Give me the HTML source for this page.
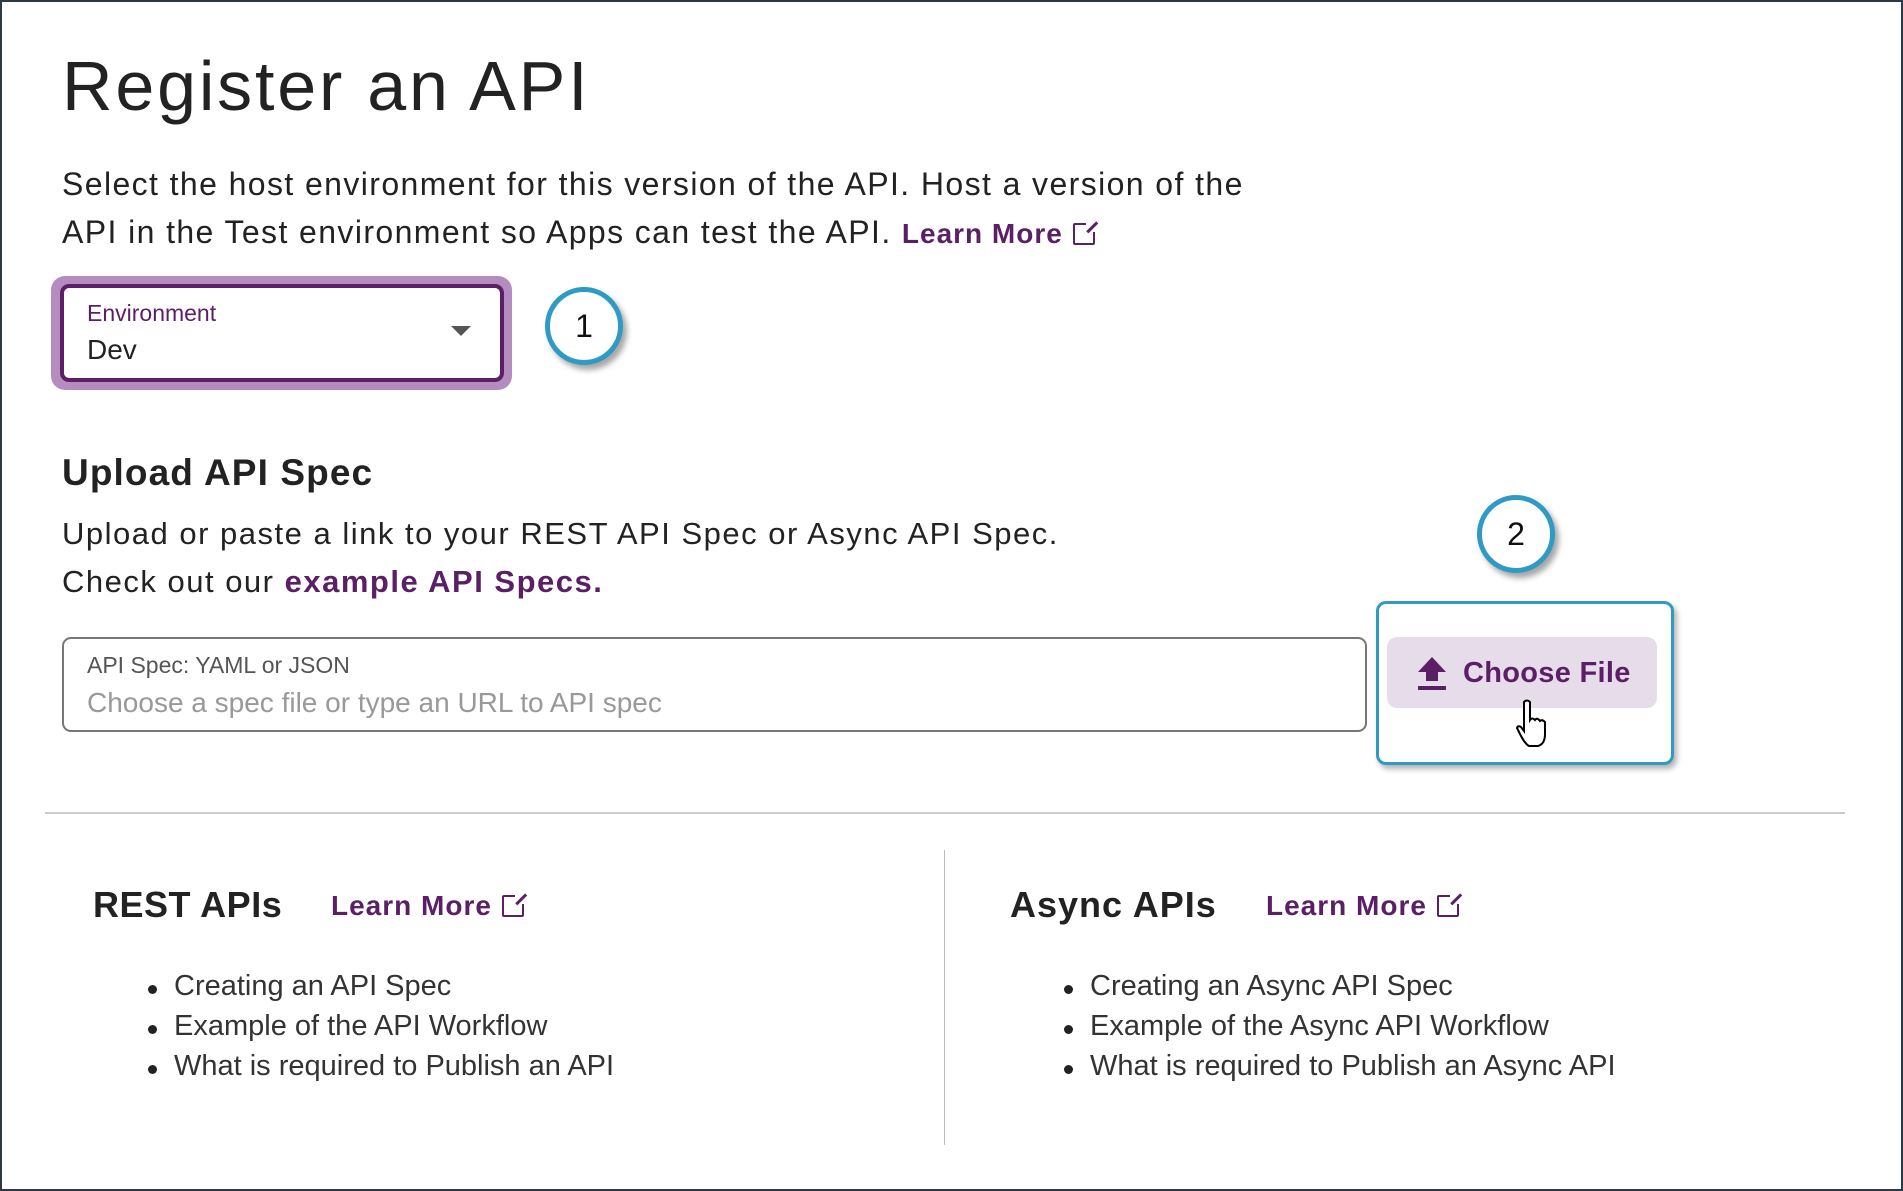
<!DOCTYPE html>
<html><head><meta charset="utf-8"><style>
*{margin:0;padding:0;box-sizing:border-box}
body{width:1903px;height:1191px;background:#fff;font-family:"Liberation Sans",sans-serif;color:#222;position:relative;overflow:hidden}
.frame{position:absolute;left:0;top:0;width:1903px;height:1191px;border:2px solid #2b3a44}
.a{position:absolute;white-space:nowrap}
.p{color:#5b1f66;font-weight:bold}
.circ{position:absolute;width:78px;height:78px;border:5px solid #2f9bc4;border-radius:50%;background:#fff;box-shadow:4px 5px 6px rgba(0,0,0,.35);font-size:32px;text-align:center;line-height:68px;color:#111}
.ext{display:inline-block;width:22px;height:22px;border:2.5px solid #5b1f66;border-radius:2px;position:relative;margin-left:10px;vertical-align:-2px}
.ext:after{content:"";position:absolute;right:-5px;top:-5px;width:12px;height:12px;background:#fff}
.ext i{position:absolute;right:-4px;top:-4px;width:14px;height:2.5px;background:#5b1f66;transform:rotate(-45deg);transform-origin:right center;z-index:2}
ul{position:absolute;list-style:none;font-size:29px;color:#333}
ul li{height:40px;position:relative;padding-left:26px}
ul li:before{content:"";position:absolute;left:0;top:15px;width:9px;height:9px;border-radius:50%;background:#222}
</style></head><body>
<div class="frame"></div>
<div class="a" style="left:62px;top:46px;font-size:70px;color:#222;letter-spacing:2.8px">Register an API</div>
<div class="a" style="left:62px;top:160px;font-size:32px;line-height:48px;color:#222;letter-spacing:1.4px">Select the host environment for this version of the API. Host a version of the<br>API in the Test environment so Apps can test the API. <span class="p" style="font-size:28px;letter-spacing:1px">Learn More</span><span class="ext"><i></i></span></div>
<div class="a" style="left:51px;top:276px;width:461px;height:114px;border-radius:14px;background:#b48cc0"></div>
<div class="a" style="left:60px;top:284px;width:444px;height:98px;border-radius:9px;border:4px solid #5b1f66;background:#fff"></div>
<div class="a" style="left:87px;top:300px;font-size:23px;color:#5b1f66">Environment</div>
<div class="a" style="left:87px;top:334px;font-size:28px;color:#222">Dev</div>
<div class="a" style="left:451px;top:326px;width:0;height:0;border-left:10px solid transparent;border-right:10px solid transparent;border-top:10px solid #555"></div>
<div class="circ" style="left:545px;top:287px">1</div>
<div class="a" style="left:62px;top:452px;font-size:37px;font-weight:bold;color:#222;letter-spacing:1.1px">Upload API Spec</div>
<div class="a" style="left:62px;top:510px;font-size:31px;line-height:48px;color:#222;letter-spacing:1.5px">Upload or paste a link to your REST API Spec or Async API Spec.<br>Check out our <span class="p">example API Specs.</span></div>
<div class="circ" style="left:1477px;top:495px">2</div>
<div class="a" style="left:62px;top:637px;width:1305px;height:95px;border:2px solid #777;border-radius:9px"></div>
<div class="a" style="left:87px;top:652px;font-size:23px;color:#555">API Spec: YAML or JSON</div>
<div class="a" style="left:87px;top:687px;font-size:28px;color:#999">Choose a spec file or type an URL to API spec</div>
<div class="a" style="left:1376px;top:601px;width:298px;height:164px;border:3px solid #2f9bc4;border-radius:10px;box-shadow:3px 4px 6px rgba(0,0,0,.3);background:#fff"></div>
<div class="a" style="left:1387px;top:637px;width:270px;height:71px;border-radius:10px;background:#e7dcea"></div>
<svg class="a" style="left:1417px;top:655px" width="30" height="36"><polygon points="15,2 29,17 21,17 21,26 9,26 9,17 1,17" fill="#5b1f66"/><rect x="1" y="31" width="28" height="4" fill="#5b1f66"/></svg>
<div class="a p" style="left:1463px;top:657px;font-size:29px;letter-spacing:0.3px">Choose File</div>
<svg class="a" style="left:1516px;top:698px" width="34" height="52"><path d="M8 4 q3-3 6 0 v18 q2-3 5 0 q2-3 5 1 q2-2 5 1 v12 q0 10-7 12 h-9 q-4-2-9-12 l-3-6 q1-3 4-1 l3 4 z" fill="#fff" stroke="#000" stroke-width="2"/></svg>
<div class="a" style="left:45px;top:812px;width:1800px;height:2px;background:#ccc"></div>
<div class="a" style="left:944px;top:850px;width:1px;height:295px;background:#bbb"></div>
<div class="a" style="left:93px;top:884px;font-size:36px;font-weight:bold;color:#222;letter-spacing:0.5px">REST APIs</div>
<div class="a p" style="left:331px;top:890px;font-size:28px;letter-spacing:1px">Learn More<span class="ext"><i></i></span></div>
<div class="a" style="left:1010px;top:884px;font-size:36px;font-weight:bold;color:#222;letter-spacing:1px">Async APIs</div>
<div class="a p" style="left:1266px;top:890px;font-size:28px;letter-spacing:1px">Learn More<span class="ext"><i></i></span></div>
<ul style="left:148px;top:970px"><li>Creating an API Spec</li><li>Example of the API Workflow</li><li>What is required to Publish an API</li></ul>
<ul style="left:1064px;top:970px"><li>Creating an Async API Spec</li><li>Example of the Async API Workflow</li><li>What is required to Publish an Async API</li></ul>
</body></html>
